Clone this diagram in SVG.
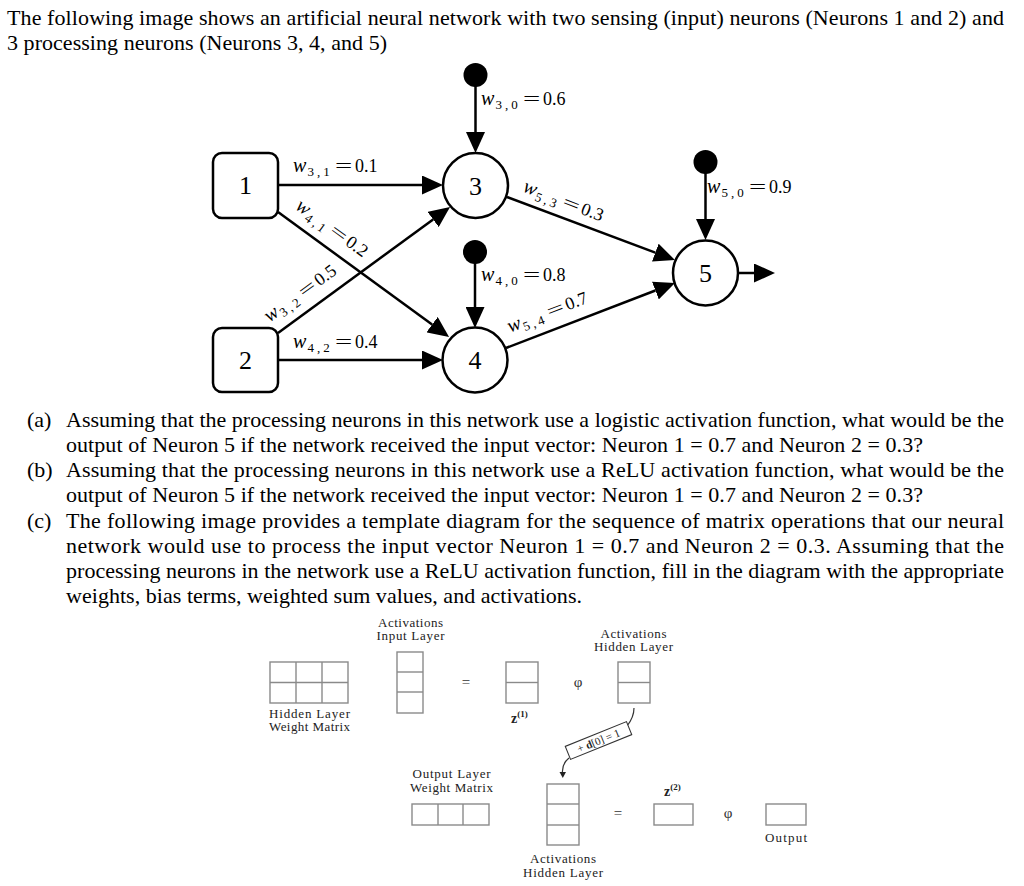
<svg xmlns="http://www.w3.org/2000/svg" width="1024" height="886" viewBox="0 0 1024 886">
<style>
.txt{font-family:"Liberation Serif","Times New Roman",serif;font-size:22px;fill:#000}
.m{font-family:"Liberation Serif","Times New Roman",serif;font-size:18px;fill:#000}
.w{font-family:"Liberation Serif","Times New Roman",serif;font-style:italic;font-size:20px;fill:#000}
.sub{font-family:"Liberation Serif","Times New Roman",serif;font-size:13px;letter-spacing:3px;fill:#000}
.num{font-family:"Liberation Serif","Times New Roman",serif;font-size:26px;fill:#000;text-anchor:middle}
.edge{stroke:#000;stroke-width:2.5;fill:none}
.node{stroke:#000;stroke-width:2.5;fill:#fff}
.cell{stroke:#8a8a8a;stroke-width:1.4;fill:#fff}
.grid{stroke:#8a8a8a;stroke-width:1.4}
.small{font-family:"Liberation Serif","Times New Roman",serif;font-size:13px;fill:#222;text-anchor:middle}
.op{font-family:"Liberation Serif","Times New Roman",serif;font-size:15px;fill:#333;text-anchor:middle}
.bz{font-family:"Liberation Serif","Times New Roman",serif;font-weight:bold;fill:#222}
</style>
<defs>
<marker id="arr" viewBox="0 0 21 19" markerWidth="21" markerHeight="19" refX="0" refY="9.5" markerUnits="userSpaceOnUse" orient="auto">
<path d="M0,0 L21,9.5 L0,19 z" fill="#000"/>
</marker>
</defs>
<rect width="1024" height="886" fill="#fff"/>

<g id="intro">
<text class="txt" x="7" y="25" textLength="997" lengthAdjust="spacing">The following image shows an artificial neural network with two sensing (input) neurons (Neurons 1 and 2) and</text>
<text class="txt" x="7" y="50" textLength="380" lengthAdjust="spacing">3 processing neurons (Neurons 3, 4, and 5)</text>
</g>

<g id="connectors">
<line class="edge" x1="279" y1="185" x2="422" y2="185" marker-end="url(#arr)"/>
<line class="edge" x1="279" y1="360" x2="422" y2="360" marker-end="url(#arr)"/>
<line class="edge" x1="278" y1="212" x2="432.1" y2="324.6" marker-end="url(#arr)"/>
<line class="edge" x1="278" y1="333" x2="433.1" y2="219.4" marker-end="url(#arr)"/>
<line class="edge" x1="507" y1="197" x2="655.3" y2="252.6" marker-end="url(#arr)"/>
<line class="edge" x1="506" y1="348" x2="655.4" y2="290.5" marker-end="url(#arr)"/>
<line class="edge" x1="475.5" y1="75" x2="475.5" y2="132" marker-end="url(#arr)"/>
<line class="edge" x1="475" y1="252" x2="475" y2="307" marker-end="url(#arr)"/>
<line class="edge" x1="705.5" y1="162" x2="705.5" y2="219" marker-end="url(#arr)"/>
<line class="edge" x1="738" y1="273" x2="754" y2="273" marker-end="url(#arr)"/>
</g>

<g id="bias3"><circle cx="475.5" cy="75" r="12" fill="#000"/></g>
<g id="bias4"><circle cx="475" cy="252" r="12" fill="#000"/></g>
<g id="bias5"><circle cx="705.5" cy="162" r="12" fill="#000"/></g>

<g id="n1"><rect class="node" x="213" y="153" width="65" height="65" rx="9"/><text class="num" x="245.5" y="194">1</text></g>
<g id="n2"><rect class="node" x="213" y="328" width="65" height="64" rx="9"/><text class="num" x="245.5" y="369">2</text></g>
<g id="n3"><circle class="node" cx="475.5" cy="185.5" r="32.5"/><text class="num" x="475.5" y="194.5">3</text></g>
<g id="n4"><circle class="node" cx="475" cy="360" r="32.5"/><text class="num" x="475" y="369">4</text></g>
<g id="n5"><circle class="node" cx="705.5" cy="273" r="32.5"/><text class="num" x="705.5" y="282">5</text></g>

<g id="weights">
<g transform="translate(481,105)"><text class="w" x="0" y="0">w</text><text class="sub" x="14.5" y="4">3,0</text><text class="m" transform="translate(42,0) scale(1.7,1)">=</text><text class="m" x="62" y="0">0.6</text></g>
<g transform="translate(293,172)"><text class="w" x="0" y="0">w</text><text class="sub" x="14.5" y="4">3,1</text><text class="m" transform="translate(42,0) scale(1.7,1)">=</text><text class="m" x="62" y="0">0.1</text></g>
<g transform="translate(293,348)"><text class="w" x="0" y="0">w</text><text class="sub" x="14.5" y="4">4,2</text><text class="m" transform="translate(42,0) scale(1.7,1)">=</text><text class="m" x="62" y="0">0.4</text></g>
<g transform="translate(481,281)"><text class="w" x="0" y="0">w</text><text class="sub" x="14.5" y="4">4,0</text><text class="m" transform="translate(42,0) scale(1.7,1)">=</text><text class="m" x="62" y="0">0.8</text></g>
<g transform="translate(707,193)"><text class="w" x="0" y="0">w</text><text class="sub" x="14.5" y="4">5,0</text><text class="m" transform="translate(42,0) scale(1.7,1)">=</text><text class="m" x="62" y="0">0.9</text></g>
<g transform="translate(330,234) rotate(36) translate(-44,0)"><text class="w" x="0" y="0">w</text><text class="sub" x="14.5" y="4">4,1</text><text class="m" transform="translate(42,0) scale(1.7,1)">=</text><text class="m" x="62" y="0">0.2</text></g>
<g transform="translate(305,297) rotate(-36) translate(-44,0)"><text class="w" x="0" y="0">w</text><text class="sub" x="14.5" y="4">3,2</text><text class="m" transform="translate(42,0) scale(1.7,1)">=</text><text class="m" x="62" y="0">0.5</text></g>
<g transform="translate(563,207) rotate(21) translate(-44,0)"><text class="w" x="0" y="0">w</text><text class="sub" x="14.5" y="4">5,3</text><text class="m" transform="translate(42,0) scale(1.7,1)">=</text><text class="m" x="62" y="0">0.3</text></g>
<g transform="translate(551,317) rotate(-21) translate(-44,0)"><text class="w" x="0" y="0">w</text><text class="sub" x="14.5" y="4">5,4</text><text class="m" transform="translate(42,0) scale(1.7,1)">=</text><text class="m" x="62" y="0">0.7</text></g>
</g>

<g id="questions">
<text class="txt" x="27" y="427">(a)</text>
<text class="txt" x="66" y="427" textLength="938" lengthAdjust="spacing">Assuming that the processing neurons in this network use a logistic activation function, what would be the</text>
<text class="txt" x="66" y="452" textLength="857" lengthAdjust="spacing">output of Neuron 5 if the network received the input vector: Neuron 1 = 0.7 and Neuron 2 = 0.3?</text>
<text class="txt" x="27" y="477">(b)</text>
<text class="txt" x="66" y="477" textLength="938" lengthAdjust="spacing">Assuming that the processing neurons in this network use a ReLU activation function, what would be the</text>
<text class="txt" x="66" y="502" textLength="857" lengthAdjust="spacing">output of Neuron 5 if the network received the input vector: Neuron 1 = 0.7 and Neuron 2 = 0.3?</text>
<text class="txt" x="27" y="528">(c)</text>
<text class="txt" x="66" y="528" textLength="938" lengthAdjust="spacing">The following image provides a template diagram for the sequence of matrix operations that our neural</text>
<text class="txt" x="66" y="553" textLength="938" lengthAdjust="spacing">network would use to process the input vector Neuron 1 = 0.7 and Neuron 2 = 0.3. Assuming that the</text>
<text class="txt" x="66" y="578" textLength="938" lengthAdjust="spacing">processing neurons in the network use a ReLU activation function, fill in the diagram with the appropriate</text>
<text class="txt" x="66" y="603" textLength="516" lengthAdjust="spacing">weights, bias terms, weighted sum values, and activations.</text>
</g>

<g id="hiddenWeights">
<rect class="cell" x="270" y="662" width="78" height="41"/>
<line class="grid" x1="296" y1="662" x2="296" y2="703"/>
<line class="grid" x1="322" y1="662" x2="322" y2="703"/>
<line class="grid" x1="270" y1="682.5" x2="348" y2="682.5"/>
<text class="small" x="309.5" y="718" textLength="81" lengthAdjust="spacing">Hidden Layer</text>
<text class="small" x="309.5" y="731" textLength="81" lengthAdjust="spacing">Weight Matrix</text>
</g>
<g id="inputAct">
<text class="small" x="410.5" y="627" textLength="65" lengthAdjust="spacing">Activations</text>
<text class="small" x="410.5" y="640" textLength="68" lengthAdjust="spacing">Input Layer</text>
<rect class="cell" x="397" y="652" width="26" height="61"/>
<line class="grid" x1="397" y1="672" x2="423" y2="672"/>
<line class="grid" x1="397" y1="692" x2="423" y2="692"/>
</g>
<text class="op" x="466" y="687">=</text>
<g id="z1">
<rect class="cell" x="506" y="662" width="32" height="41"/>
<line class="grid" x1="506" y1="682.5" x2="538" y2="682.5"/>
<text class="bz" x="511" y="723" font-size="14">z<tspan font-size="9" dy="-6">(1)</tspan></text>
</g>
<text class="op" x="578" y="687">φ</text>
<g id="hiddenAct">
<text class="small" x="633.5" y="638" textLength="66" lengthAdjust="spacing">Activations</text>
<text class="small" x="633.5" y="651" textLength="79" lengthAdjust="spacing">Hidden Layer</text>
<rect class="cell" x="618" y="662" width="32" height="41"/>
<line class="grid" x1="618" y1="682.5" x2="650" y2="682.5"/>
</g>
<g id="biasNote">
<path d="M634,708 C634,716 631,721 627,726" stroke="#333" stroke-width="1.2" fill="none"/>
<path d="M569,758 C564,762 562,767 562.5,773" stroke="#333" stroke-width="1.2" fill="none"/>
<polygon points="559.5,772 566,772 562.8,778" fill="#222"/>
<g transform="translate(598.5,740.5) rotate(-22)">
<rect x="-33" y="-7" width="66" height="14" fill="#fff" stroke="#333" stroke-width="1.1"/>
<text x="0" y="4" font-family="Liberation Serif, serif" font-size="11" fill="#222" text-anchor="middle">+ <tspan font-weight="bold">d</tspan>[0] = 1</text>
</g>
</g>
<g id="outputWeights">
<text class="small" x="451.5" y="778" textLength="78" lengthAdjust="spacing">Output Layer</text>
<text class="small" x="451.5" y="792" textLength="83" lengthAdjust="spacing">Weight Matrix</text>
<rect class="cell" x="412" y="804" width="77" height="21"/>
<line class="grid" x1="438" y1="804" x2="438" y2="825"/>
<line class="grid" x1="463" y1="804" x2="463" y2="825"/>
</g>
<g id="hiddenAct2">
<rect class="cell" x="547" y="784" width="32" height="61"/>
<line class="grid" x1="547" y1="804" x2="579" y2="804"/>
<line class="grid" x1="547" y1="825" x2="579" y2="825"/>
<text class="small" x="563" y="863" textLength="66" lengthAdjust="spacing">Activations</text>
<text class="small" x="563" y="877" textLength="80" lengthAdjust="spacing">Hidden Layer</text>
</g>
<text class="op" x="618" y="818">=</text>
<g id="z2">
<text class="bz" x="664" y="796" font-size="14">z<tspan font-size="9" dy="-6">(2)</tspan></text>
<rect class="cell" x="654" y="804" width="39" height="21"/>
</g>
<text class="op" x="728" y="818">φ</text>
<g id="output">
<rect class="cell" x="766" y="804" width="40" height="21"/>
<text class="small" x="786" y="842" textLength="42" lengthAdjust="spacing">Output</text>
</g>
</svg>
